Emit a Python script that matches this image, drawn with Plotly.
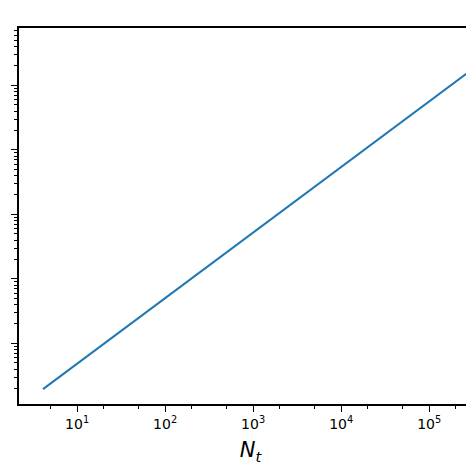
import plotly.graph_objects as go

# line endpoints (log-log, straight line)
n_t = [4.1, 4.0e5]
values = [1.95, 2.3e5]
x_ticks = [10, 100, 1000, 10000, 100000]
x_labels = ["10<sup>1</sup>", "10<sup>2</sup>", "10<sup>3</sup>", "10<sup>4</sup>", "10<sup>5</sup>"]

fig = go.Figure()
fig.add_trace(go.Scatter(x=n_t, y=values, mode="lines",
                         line=dict(color="#1f77b4", width=2), showlegend=False))

axis_common = dict(type="log", showgrid=False, zeroline=False, showline=True,
                   linecolor="black", linewidth=1.5, mirror=True, automargin=False,
                   ticks="outside", ticklen=6, tickcolor="black",
                   minor=dict(ticks="outside", ticklen=3, tickcolor="black", showgrid=False))

fig.update_xaxes(range=[0.34, 5.6], tickvals=x_ticks, ticktext=x_labels,
                 tickfont=dict(size=14, color="black", family="DejaVu Sans"),
                 title=dict(text="<i>N<sub>t</sub></i>", font=dict(size=21, color="black", family="DejaVu Sans"), standoff=12),
                 **axis_common)
fig.update_yaxes(range=[0.06, 5.89], dtick=1, showticklabels=False, **axis_common)

fig.update_layout(width=474, height=474, plot_bgcolor="white", paper_bgcolor="white",
                  margin=dict(l=11, r=0, t=20, b=78))
fig.write_html("out.html")
